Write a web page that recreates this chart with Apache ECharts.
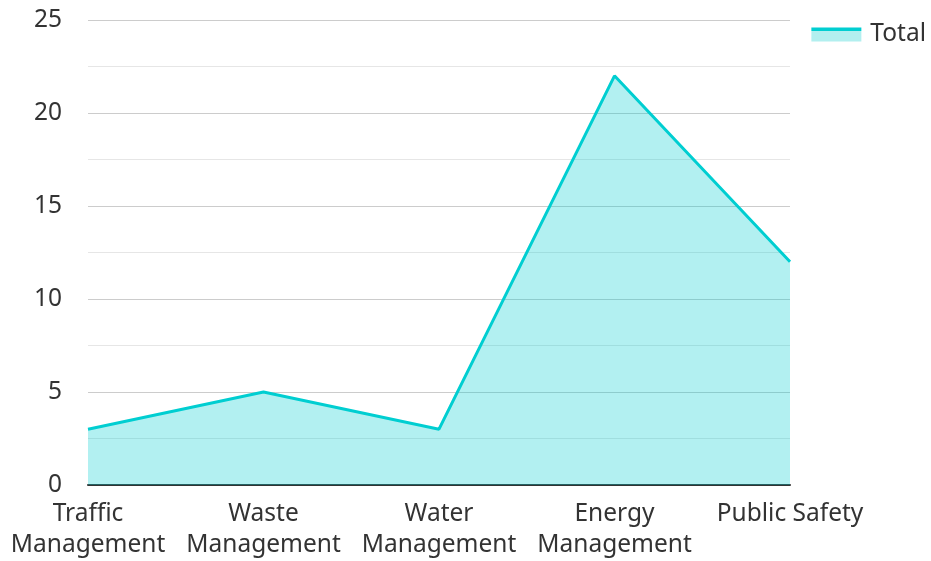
<!DOCTYPE html>
<html><head><meta charset="utf-8">
<script src="https://cdn.jsdelivr.net/npm/echarts@6/dist/echarts.min.js"></script>
<style>html,body{margin:0;padding:0;background:#fff}#c{width:931px;height:561px}</style>
</head><body><div id="c"></div>
<script>
const categories = ["Traffic\nManagement", "Waste\nManagement", "Water\nManagement", "Energy\nManagement", "Public Safety"];
const totalValues = [3, 5, 3, 22, 12];
const seriesName = "Total";

const chart = echarts.init(document.getElementById('c'));
chart.setOption({
  animation: false,
  textStyle: { fontFamily: 'Noto Sans' },
  grid: { left: 88, right: 141, top: 20, bottom: 74 },
  legend: {
    data: [seriesName], right: 0, top: 17, itemWidth: 50, itemHeight: 14, itemGap: 10,
    icon: 'rect',
    itemStyle: {
      color: {
        type: 'linear', x: 0, y: 0, x2: 0, y2: 1,
        colorStops: [
          { offset: 0, color: '#00CED1' }, { offset: 0.28, color: '#00CED1' },
          { offset: 0.28, color: '#b2efef' }, { offset: 1, color: '#b2efef' }
        ]
      }
    },
    textStyle: { fontSize: 24.5, color: '#333', fontFamily: 'Noto Sans', padding: [0, 0, 0, 4] }
  },
  xAxis: {
    type: 'category', data: categories, boundaryGap: false,
    axisLine: { lineStyle: { color: '#333', width: 2 } },
    axisTick: { show: false },
    axisLabel: { fontSize: 24.5, color: '#333', lineHeight: 31, margin: 14, interval: 0 }
  },
  yAxis: {
    type: 'value', min: 0, max: 25, interval: 5,
    axisLine: { show: false }, axisTick: { show: false },
    axisLabel: { fontSize: 24.5, color: '#333', margin: 26 },
    splitLine: { lineStyle: { color: '#ccc', width: 1 } },
    minorTick: { show: false, splitNumber: 2 },
    minorSplitLine: { show: true, lineStyle: { color: '#e6e6e6', width: 1 } }
  },
  series: [{
    name: seriesName, type: 'line', data: totalValues, symbol: 'none',
    lineStyle: { color: '#00CED1', width: 3 },
    itemStyle: { color: '#00CED1' },
    areaStyle: { color: '#00CED1', opacity: 0.3 }
  }]
});
</script></body></html>
